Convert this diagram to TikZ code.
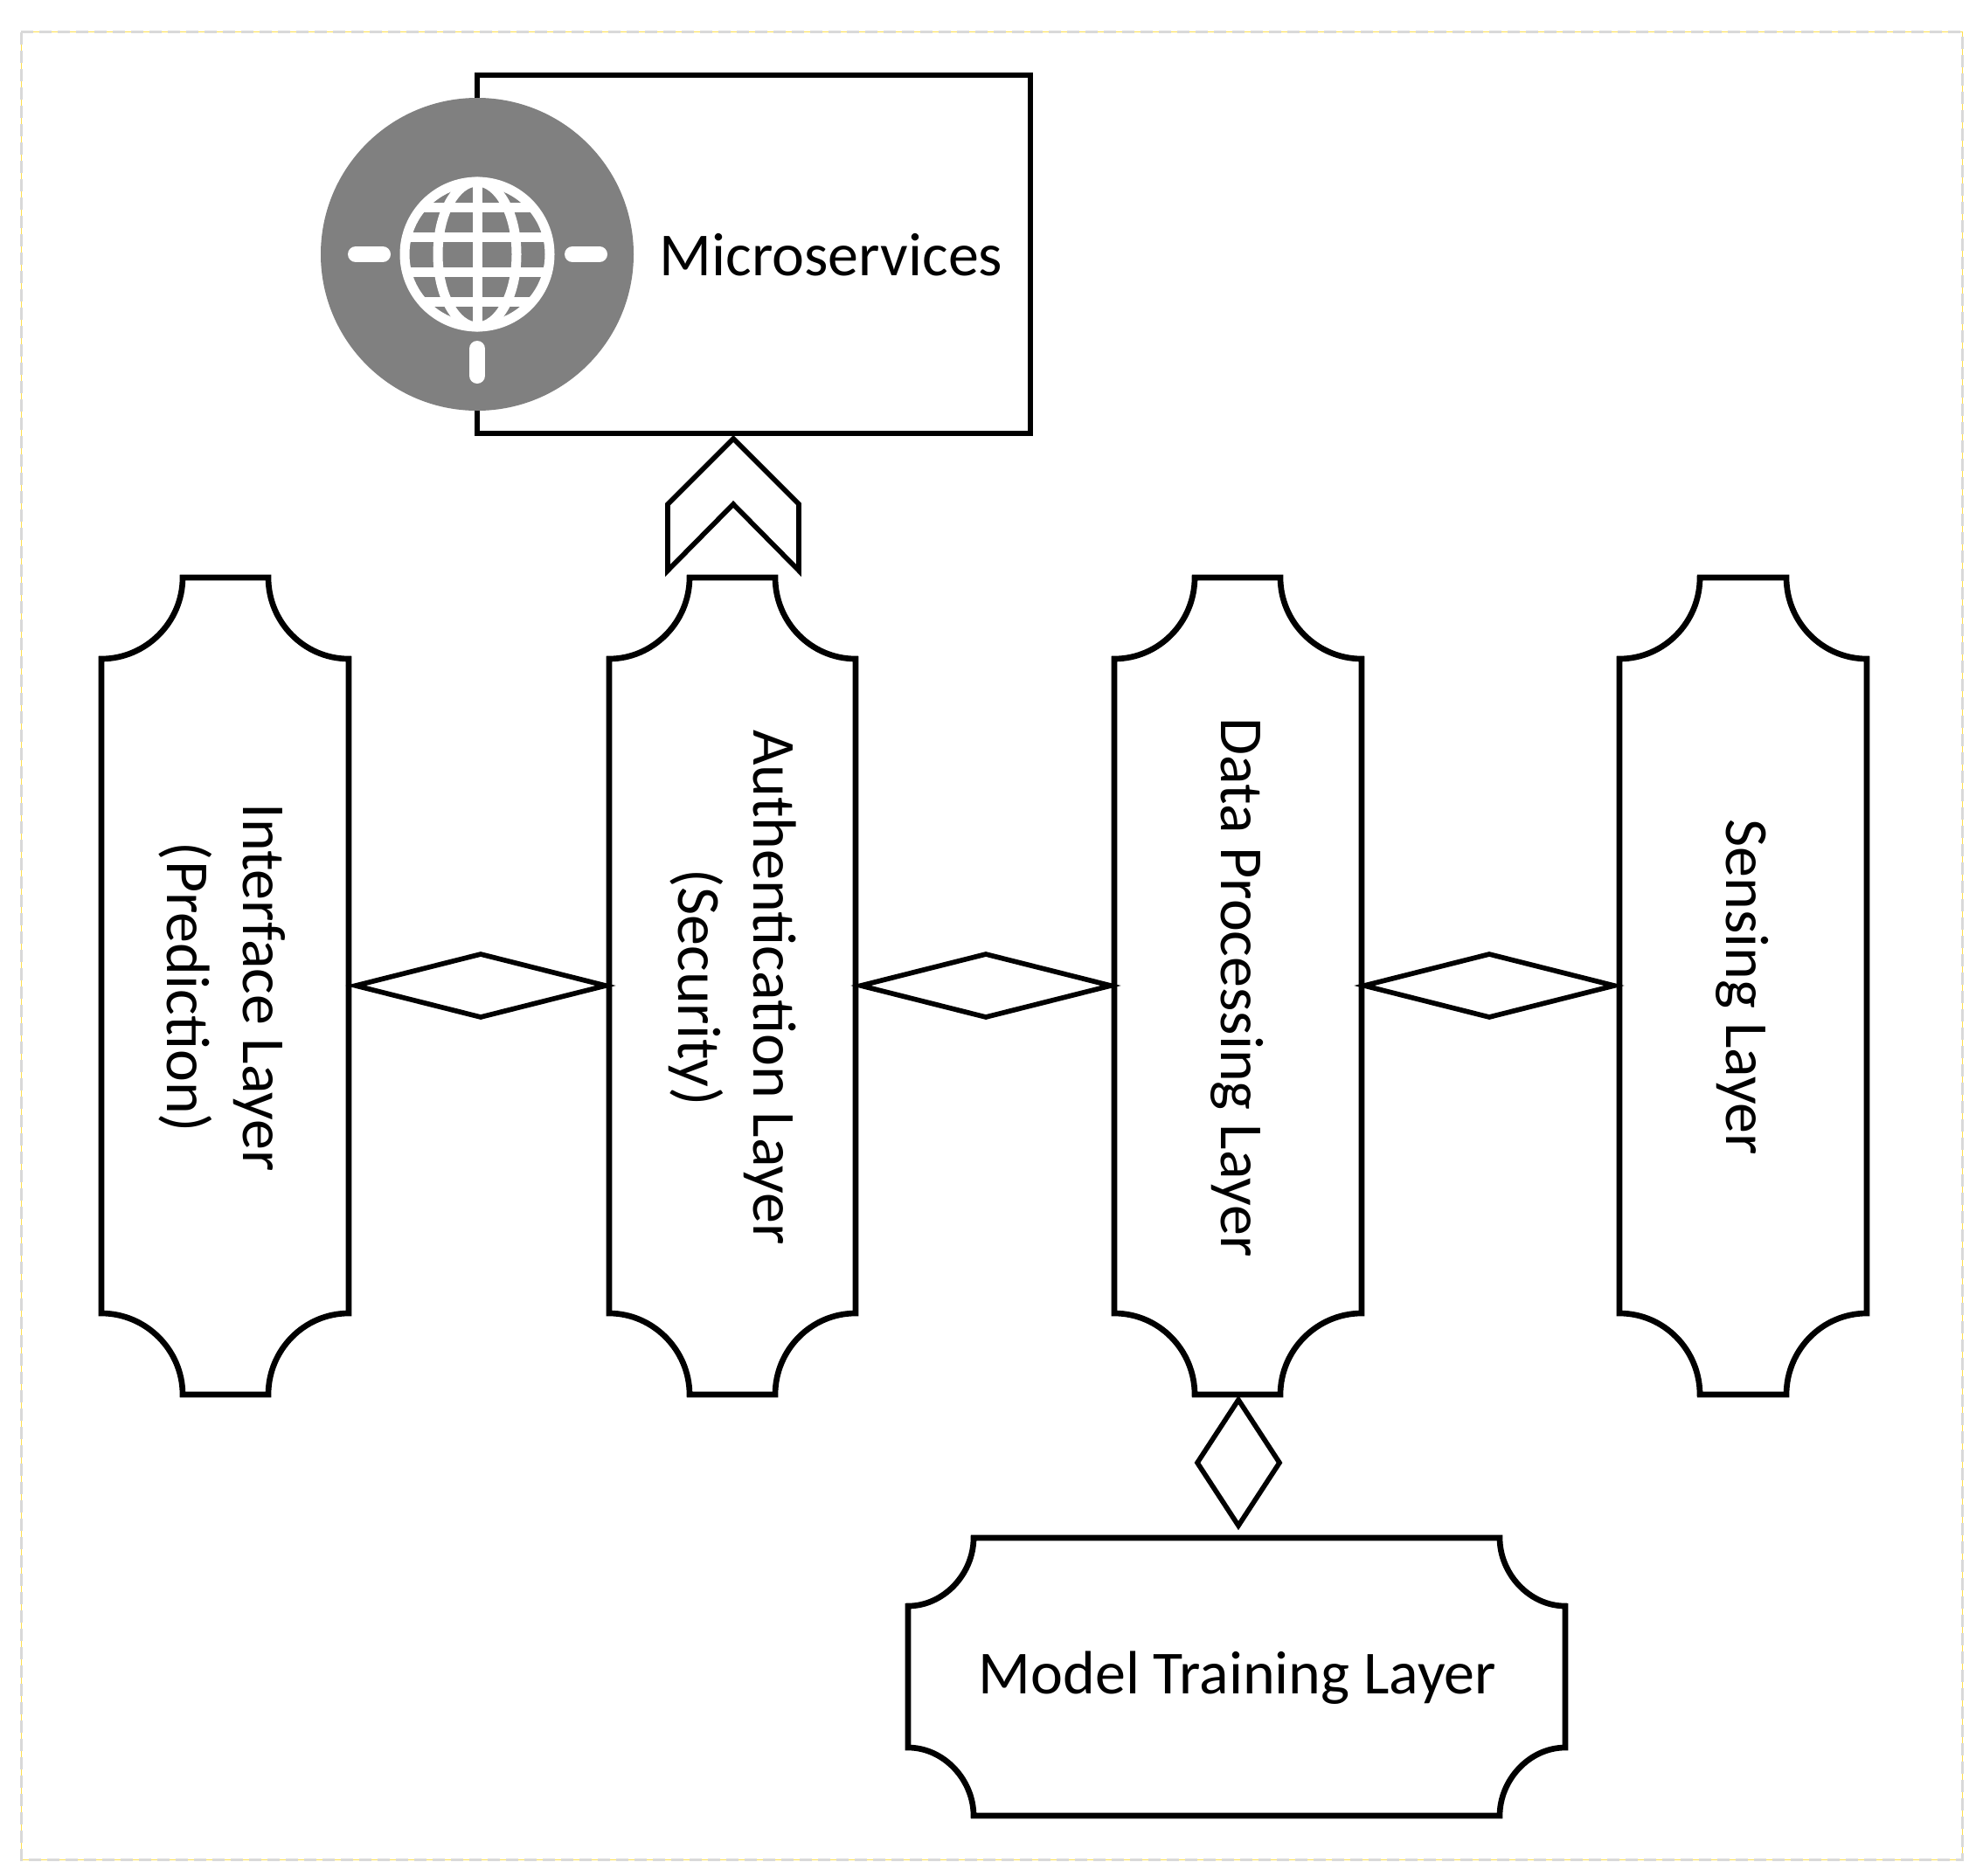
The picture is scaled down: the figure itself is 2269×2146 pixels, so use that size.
\documentclass[tikz,border=0pt]{standalone}
\usepackage{fontspec}
\setmainfont{Carlito}
\tikzset{
  shapeline/.style={draw=black,line width=2pt,fill=white,line join=miter},
  linkline/.style={draw=black,line width=1.7pt,fill=white,line join=miter},
  globeline/.style={draw=white,line width=3.3pt},
  tickline/.style={draw=white,line width=5.4pt,line cap=round},
  labeltext/.style={font=\fontsize{21}{26}\selectfont,align=center,inner sep=0pt}
}
\begin{document}
\begin{tikzpicture}[x=0.3pt,y=0.3pt,yscale=-1,xscale=1]
\useasboundingbox (0,0) rectangle (2269,2146);

%Shape: Frame
\draw [color=yellow!70!orange!70!white,line width=0.3pt] (24,37) -- (2245,37) -- (2245,2128) -- (24,2128) -- cycle ;
\draw [color=black!15,line width=0.9pt,dash pattern=on 4.2pt off 2.1pt] (24,37) -- (2245,37) -- (2245,2128) -- (24,2128) -- cycle ;

%Shape: Rectangle
\draw [shapeline] (546,86) -- (1179,86) -- (1179,496) -- (546,496) -- cycle ;
%Shape: Circle
\fill [color=black!50] (546,291) circle [radius=179] ;
%Shape: Globe
\draw [globeline] (546,291) circle [radius=83] ;
\draw [globeline] (546,291) circle [x radius=45,y radius=83] ;
\draw [globeline] (546,208) -- (546,374) ;
\draw [globeline] (482,237) -- (610,237) ;
\draw [globeline] (466,271) -- (626,271) ;
\draw [globeline] (466,311) -- (626,311) ;
\draw [globeline] (482,345) -- (610,345) ;
%Shape: Ticks
\draw [tickline] (407,291) -- (438,291) ;
\draw [tickline] (655,291) -- (686,291) ;
\draw [tickline] (546,399) -- (546,430) ;

%Shape: Chevron
\draw [shapeline,line width=1.7pt] (764,653) -- (764,577) -- (839,502) -- (914,577) -- (914,653) -- (839,577) -- cycle ;

%Shape: Plaque
\draw [shapeline] (209,661) -- (307,661) .. controls (307,712) and (348,754) .. (399,754) -- (399,1503) .. controls (348,1503) and (307,1545) .. (307,1596) -- (209,1596) .. controls (209,1545) and (167,1503) .. (116,1503) -- (116,754) .. controls (167,754) and (209,712) .. (209,661) -- cycle ;
%Shape: Plaque
\draw [shapeline] (789,661) -- (887,661) .. controls (887,712) and (928,754) .. (979,754) -- (979,1503) .. controls (928,1503) and (887,1545) .. (887,1596) -- (789,1596) .. controls (789,1545) and (747,1503) .. (697,1503) -- (697,754) .. controls (747,754) and (789,712) .. (789,661) -- cycle ;
%Shape: Plaque
\draw [shapeline] (1367,661) -- (1465,661) .. controls (1465,712) and (1507,754) .. (1558,754) -- (1558,1503) .. controls (1507,1503) and (1465,1545) .. (1465,1596) -- (1367,1596) .. controls (1367,1545) and (1326,1503) .. (1275,1503) -- (1275,754) .. controls (1326,754) and (1367,712) .. (1367,661) -- cycle ;
%Shape: Plaque
\draw [shapeline] (1945,661) -- (2044,661) .. controls (2044,712) and (2085,754) .. (2136,754) -- (2136,1503) .. controls (2085,1503) and (2044,1545) .. (2044,1596) -- (1945,1596) .. controls (1945,1545) and (1904,1503) .. (1853,1503) -- (1853,754) .. controls (1904,754) and (1945,712) .. (1945,661) -- cycle ;
%Shape: Plaque
\draw [shapeline] (1114,1760) -- (1716,1760) .. controls (1716,1801) and (1750,1838) .. (1791,1838) -- (1791,2000) .. controls (1750,2000) and (1716,2037) .. (1716,2078) -- (1114,2078) .. controls (1114,2037) and (1080,2000) .. (1039,2000) -- (1039,1838) .. controls (1080,1838) and (1114,1801) .. (1114,1760) -- cycle ;

%Shape: Diamond
\draw [linkline] (407,1128) -- (550,1092) -- (693,1128) -- (550,1164) -- cycle ;
%Shape: Diamond
\draw [linkline] (985,1128) -- (1128,1092) -- (1271,1128) -- (1128,1164) -- cycle ;
%Shape: Diamond
\draw [linkline] (1561,1128) -- (1704,1092) -- (1847,1128) -- (1704,1164) -- cycle ;
%Shape: Diamond
\draw [linkline] (1417,1602) -- (1464,1674) -- (1417,1746) -- (1370,1674) -- cycle ;

% Text Node
\node [labeltext] (microservices) at (951,292) {Microservices};
% Text Node
\node [labeltext,rotate=-90] (interface) at (254,1130) {Interface Layer\\(Prediction)};
% Text Node
\node [labeltext,rotate=-90] (authentication) at (838,1130) {Authentication Layer\\(Security)};
% Text Node
\node [labeltext,rotate=-90] (dataprocessing) at (1416,1130) {Data Processing Layer};
% Text Node
\node [labeltext,rotate=-90] (sensing) at (1994,1130) {Sensing Layer};
% Text Node
\node [labeltext] (modeltraining) at (1416,1920) {Model Training Layer};
\end{tikzpicture}
\end{document}
